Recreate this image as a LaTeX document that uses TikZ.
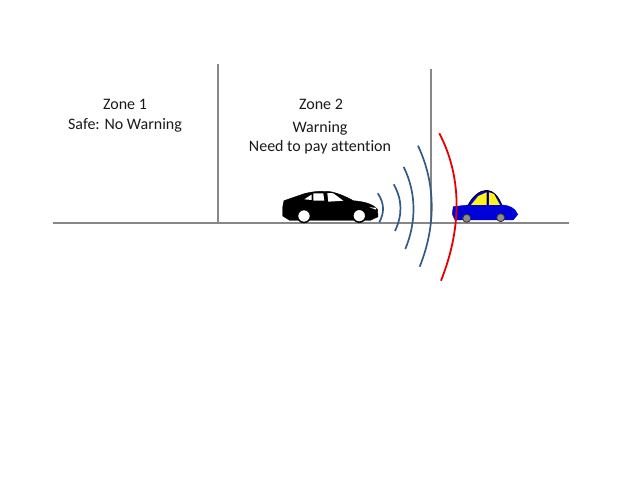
\documentclass[tikz,border=0pt]{standalone}
\usepackage{fontspec}
\setmainfont[RawFeature=-liga]{Carlito}
\definecolor{wavecol}{RGB}{50,90,135}
\definecolor{linecol}{RGB}{135,135,135}
\tikzset{
	zonetext/.style={font=\fontsize{16}{19}\selectfont, text=black!90},
	roadline/.style={draw=linecol, line width=1.3pt},
	wave/.style={draw=wavecol, line width=1.7pt},
}

\begin{document}
\begin{tikzpicture}[x=1pt, y=-1pt]
		%%%%% START %%%%%
		\useasboundingbox (0, 0) rectangle (638, 478);
		
		\draw[roadline] (53, 223) -- (569, 223);
		\draw[roadline] (218, 64) -- (218, 223);
		\draw[roadline] (431, 69) -- (431, 223);
		
		\node[zonetext] (zoneone) at (125, 104.5) {Zone 1};
		\node[zonetext] (safetext) at (125, 125.5) {Safe: No Warning};
		\node[zonetext] (zonetwo) at (321, 104.5) {Zone 2};
		\node[zonetext] (warntext) at (320, 128) {Warning};
		\node[zonetext] (needtext) at (320, 147.5) {Need to pay attention};
		
		% black car
		\draw[fill=black] (282.7, 216) -- (282.7, 207) -- (284, 200.7) -- (303.3, 194)
			.. controls (312, 191.5) and (320, 191) .. (326.7, 191.3)
			.. controls (334, 191.5) and (345, 196) .. (353.3, 200.7)
			.. controls (362, 201.5) and (372, 203) .. (377.5, 209.3)
			-- (378, 216.7) -- (370, 220.5) -- (290, 220.5) -- cycle;
		\fill[white] (304.3, 199.3) -- (311.7, 194.5) -- (311.7, 200) -- cycle;
		\fill[white] (313.3, 193.3) -- (323.3, 193.3) -- (324.3, 200.7) -- (313.3, 200.7) -- cycle;
		\fill[white] (327.3, 193) -- (333.3, 193.3) -- (343.3, 200.7) -- (328.3, 201.7) -- cycle;
		\fill[white] (369.3, 207.3) -- (376, 207.8) -- (376, 209.6) -- cycle;
		\draw[fill=white, line width=1.5pt] (304, 216) circle (6.5);
		\draw[fill=white, line width=1.5pt] (359.3, 215.7) circle (6.5);
		
		% radar waves
		\draw[wave] (377.7, 193.3) .. controls (384.5, 203) and (384.5, 213) .. (379.3, 222.3);
		\draw[wave] (393.7, 184.3) .. controls (402.5, 200) and (402.5, 215) .. (395, 231);
		\draw[wave] (403.7, 167) .. controls (416.5, 193) and (416.5, 222) .. (405.3, 249);
		\draw[wave] (418, 145.7) .. controls (436, 184) and (436, 226) .. (419.7, 266.7);
		
		% blue car
		\draw[fill=blue!85!black, draw=blue!85!black, line width=0.5pt] (452.3, 214) -- (453.3, 206.7) -- (468.3, 205)
			.. controls (473, 196) and (480, 190.5) .. (486.7, 190.5)
			.. controls (493, 190.5) and (498, 196) .. (501.7, 205)
			.. controls (510, 205.5) and (515, 208) .. (517.7, 214.5)
			-- (513, 220) -- (455, 220) -- cycle;
		\draw[black, line width=0.9pt] (468.3, 205) .. controls (473, 196) and (480, 190.5) .. (486.7, 190.5)
			.. controls (493, 190.5) and (498, 196) .. (501.7, 205);
		\fill[yellow!90!white] (471, 205) -- (478.3, 196) -- (486.7, 192.3) -- (486.7, 205) -- cycle;
		\fill[yellow!90!white] (489, 192.3) -- (494, 194) -- (500, 205) -- (489, 205) -- cycle;
		\draw[black, line width=0.9pt] (487.8, 191) -- (487.8, 205);
		\draw[fill=black!45, draw=black!80, line width=0.8pt] (466.7, 218.3) circle (4);
		\draw[fill=black!45, draw=black!80, line width=0.8pt] (500.7, 217.7) circle (4);
		
		% red wave, over the blue car
		\draw[draw=red!90!black, line width=1.8pt] (439.3, 133.3) .. controls (461, 175) and (463, 225) .. (441, 280.7);
		
		%%%%% END %%%%%
	\end{tikzpicture}
\end{document}
